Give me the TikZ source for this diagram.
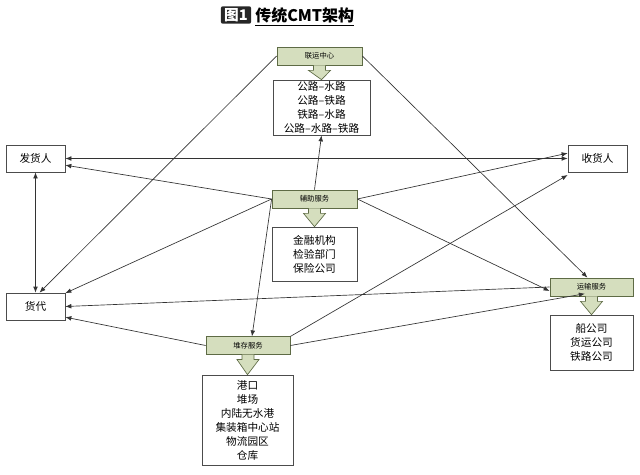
\documentclass[tikz,border=0pt]{standalone}
\usepackage{fontspec}
\setmainfont{Noto Sans CJK SC}
\usetikzlibrary{arrows.meta,calc}
\definecolor{gfill}{HTML}{D5DEBE}
\definecolor{gline}{HTML}{5E6B45}
\begin{document}
\begin{tikzpicture}[x=0.75pt,y=-0.75pt,
  wbox/.style={draw=black!70,fill=white,line width=0.5pt,inner sep=0pt,font=\fontsize{8}{10.5}\selectfont,align=center},
  gbox/.style={draw=gline,fill=gfill,line width=0.6pt,inner sep=0pt,font=\fontsize{5.5}{6}\selectfont},
  con/.style={draw=black!80,line width=0.5pt,-{Latex[length=4.5pt,width=3.5pt]}},
  dcon/.style={con,{Latex[length=4.5pt,width=3.5pt]}-{Latex[length=4.5pt,width=3.5pt]}},
  barrow/.style={draw=gline,fill=gfill,line width=0.5pt}]
\useasboundingbox (0,0) rectangle (640,475);
% title
\node[fill=black!85,text=white,font=\bfseries\fontsize{11}{12}\selectfont,inner xsep=2.5pt,inner ysep=1.5pt,rounded corners=1.5pt] (t1) at (236,15) {图1};
\node[font=\bfseries\fontsize{12}{13}\selectfont,anchor=west,inner sep=0pt] (t2) at (255,15) {传统CMT架构};
\draw[line width=0.6pt] ([yshift=-2]t2.south west) -- ([yshift=-2]t2.south east);
% boxes
\node[gbox,minimum width=63.75pt,minimum height=13.5pt] (lyzx) at (319.5,56) {联运中心};
\node[wbox,minimum width=72.75pt,minimum height=41.25pt] (gl) at (321.5,107.5) {公路–水路\\公路–铁路\\铁路–水路\\公路–水路–铁路};
\node[wbox,minimum width=44.25pt,minimum height=20.25pt] (fhr) at (35.5,158.5) {发货人};
\node[wbox,minimum width=44.25pt,minimum height=20.25pt] (shr) at (597.5,158.5) {收货人};
\node[gbox,minimum width=63.75pt,minimum height=13.5pt] (fz) at (314.5,199) {辅助服务};
\node[wbox,minimum width=63.75pt,minimum height=40.5pt] (jr) at (314.5,254) {金融机构\\检验部门\\保险公司};
\node[wbox,minimum width=44.25pt,minimum height=20.25pt] (hd) at (35.5,306.5) {货代};
\node[gbox,minimum width=62.25pt,minimum height=13.5pt] (ys) at (591.5,287) {运输服务};
\node[wbox,minimum width=62.25pt,minimum height=41.25pt] (cg) at (591.5,342.5) {船公司\\货运公司\\铁路公司};
\node[gbox,minimum width=63pt,minimum height=13pt] (dc) at (248,345.5) {堆存服务};
\node[wbox,minimum width=68.25pt,minimum height=67.5pt] (gk) at (247.5,420) {港口\\堆场\\内陆无水港\\集装箱中心站\\物流园区\\仓库};
% block arrows
\foreach \n/\m in {lyzx/gl, fz/jr, ys/cg, dc/gk}{
  \path (\n.south) coordinate (s) (\m.north) coordinate (e);
  \draw[barrow] ($(s)+(-6,0)$) -- ($(s)+(-6,5)$) -- ($(s)+(-11,5)$) -- (e) -- ($(s)+(11,5)$) -- ($(s)+(6,5)$) -- ($(s)+(6,0)$);
}
% connectors
\draw[dcon] (fhr.east) -- (shr.west);
\draw[dcon] (fhr.south) -- (hd.north);
\draw[con] (lyzx.west) -- ([xshift=3]hd.north);
\draw[con] (lyzx.east) -- ([xshift=-3]ys.north);
\draw[con] (fz.west) -- ([yshift=-5]fhr.east);
\draw[con] (fz.west) -- ([yshift=10]hd.east);
\draw[con] (fz.west) -- ([xshift=3]dc.north);
\draw[con] (fz.north) -- (gl.south);
\draw[con] (fz.east) -- ([yshift=4]shr.west);
\draw[con] (fz.east) -- ([yshift=-3]ys.west);
\draw[con] (ys.west) -- (hd.east);
\draw[con] (dc.west) -- ([yshift=-8]hd.east);
\draw[con] (dc.north east) -- ([yshift=-2]shr.south west);
\draw[con] (dc.east) -- ([xshift=-5,yshift=2]ys.south);
\end{tikzpicture}
\end{document}
